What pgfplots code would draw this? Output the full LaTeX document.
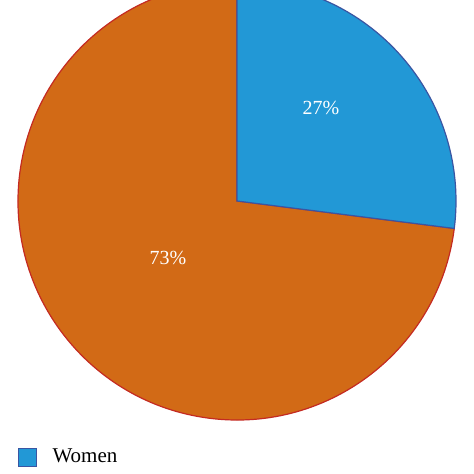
\documentclass[border=0pt]{standalone}
\usepackage{pgfplots}
\pgfplotsset{compat=1.18}
\usepackage{fontspec}
\setmainfont{Liberation Serif}
\definecolor{pieblue}{HTML}{2298D6}
\definecolor{pieorange}{HTML}{D26A16}
\definecolor{blueedge}{HTML}{3A55A2}
\definecolor{orangeedge}{HTML}{C42A22}
% values (percent): Women, Men
\def\women{27}
\def\men{73}
\begin{document}
\begin{tikzpicture}
\useasboundingbox (0,0) rectangle (474pt,474pt);
\clip (0,0) rectangle (474pt,474pt);
\begin{axis}[
  at={(0,0)}, anchor=south west,
  x=1pt, y=1pt,
  scale only axis,
  disabledatascaling,
  xmin=0, xmax=474, ymin=0, ymax=474,
  hide axis,
  clip=true,
]
\pgfmathsetmacro{\aend}{90-3.6*\women}
% Men slice (orange)
\filldraw[fill=pieorange, draw=orangeedge, line width=1.2pt]
  (axis cs:237,273) -- ++(\aend:219pt) arc[start angle=\aend, end angle=-270, radius=219pt] -- cycle;
% Women slice (blue)
\filldraw[fill=pieblue, draw=blueedge, line width=1.2pt]
  (axis cs:237,273) -- ++(90:219pt) arc[start angle=90, end angle=\aend, radius=219pt] -- cycle;
\node[text=white, font=\fontsize{20}{24}\selectfont] at (axis cs:321,366) {27\%};
\node[text=white, font=\fontsize{20}{24}\selectfont] at (axis cs:168,216) {73\%};
% legend
\filldraw[fill=pieblue, draw=blueedge, line width=0.8pt] (axis cs:18,8) rectangle (axis cs:36,26);
\node[anchor=base west, font=\fontsize{21}{25}\selectfont] at (axis cs:49,11) {Women};
\end{axis}
\end{tikzpicture}
\end{document}
